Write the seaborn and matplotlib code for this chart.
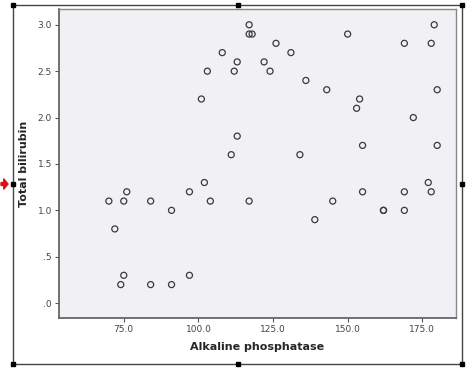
import matplotlib
matplotlib.use("Agg")
import matplotlib.pyplot as plt
import seaborn as sns
import pandas as pd
from matplotlib.lines import Line2D
from matplotlib.patches import FancyArrow

# valores
fosfatase = [70, 72, 75, 76, 74, 75, 84, 84, 91, 91, 97, 97, 101, 102, 103, 104,
             108, 111, 112, 113, 113, 117, 117, 118, 117, 122, 124, 126, 131, 134,
             136, 139, 143, 145, 150, 153, 154, 155, 155, 162, 162, 169, 169, 169,
             172, 177, 178, 178, 179, 180, 180]
bilirrubina = [1.1, 0.8, 1.1, 1.2, 0.2, 0.3, 1.1, 0.2, 1.0, 0.2, 1.2, 0.3, 2.2, 1.3, 2.5, 1.1,
               2.7, 1.6, 2.5, 2.6, 1.8, 3.0, 2.9, 2.9, 1.1, 2.6, 2.5, 2.8, 2.7, 1.6,
               2.4, 0.9, 2.3, 1.1, 2.9, 2.1, 2.2, 1.7, 1.2, 1.0, 1.0, 2.8, 1.2, 1.0,
               2.0, 1.3, 2.8, 1.2, 3.0, 2.3, 1.7]
xticks = [75, 100, 125, 150, 175]
xlabels = ["75.0", "100.0", "125.0", "150.0", "175.0"]
yticks = [0, 0.5, 1.0, 1.5, 2.0, 2.5, 3.0]
ylabels = [".0", ".5", "1.0", "1.5", "2.0", "2.5", "3.0"]

df = pd.DataFrame({"Alkaline phosphatase": fosfatase, "Total bilirubin": bilirrubina})

sns.set_style("white")
plt.rcParams["font.family"] = ["DejaVu Sans"]

fig = plt.figure(figsize=(4.74, 3.74), dpi=100)
ax = fig.add_axes([59 / 474, 1 - 318 / 374, 397 / 474, 309 / 374])
ax.set_facecolor("#f1f0f4")

sns.scatterplot(data=df, x="Alkaline phosphatase", y="Total bilirubin", ax=ax,
                marker="o", s=19, facecolor="none", edgecolor="#3a3a3a", linewidth=0.9)

ax.set_xlim(53.3, 186.3)
ax.set_ylim(-0.16, 3.17)
ax.set_xticks(xticks)
ax.set_xticklabels(xlabels)
ax.set_yticks(yticks)
ax.set_yticklabels(ylabels)
ax.tick_params(axis="both", length=3, width=0.8, color="#555555",
               labelsize=6.5, labelcolor="#444444", pad=2, direction="out")
ax.tick_params(axis="x", bottom=True)
ax.tick_params(axis="y", left=True)
for lado in ["left", "bottom"]:
    ax.spines[lado].set_color("#666666")
    ax.spines[lado].set_linewidth(1.3)
for lado in ["top", "right"]:
    ax.spines[lado].set_color("#888888")
    ax.spines[lado].set_linewidth(1.0)
ax.set_xlabel("Alkaline phosphatase", fontsize=8, fontweight="bold", labelpad=6)
ax.set_ylabel("Total bilirubin", fontsize=8, fontweight="bold", labelpad=6)

# moldura de seleção do SPSS
W, H = 474, 374
x0, x1, y0, y1 = 13, 462, 4.5, 363.5
def fx(v):
    return v / W
def fy(v):
    return 1 - v / H
for xs, ys in [([x0, x1], [y0, y0]), ([x0, x1], [y1, y1]),
               ([x0, x0], [y0, y1]), ([x1, x1], [y0, y1])]:
    fig.add_artist(Line2D([fx(v) for v in xs], [fy(v) for v in ys],
                          color="#444444", linewidth=1.0))
xm, ym = (x0 + x1) / 2, (y0 + y1) / 2
for hx, hy in [(x0, y0), (xm, y0), (x1, y0), (x0, ym), (x1, ym),
               (x0, y1), (xm, y1), (x1, y1)]:
    fig.add_artist(Line2D([fx(hx)], [fy(hy)], marker="s", markersize=3,
                          color="black", linestyle="none"))
fig.add_artist(FancyArrow(fx(1), fy(ym), fx(7), 0, width=0.008,
                          head_width=0.028, head_length=0.009,
                          length_includes_head=True, color="#e01010",
                          transform=fig.transFigure))

plt.savefig("out.png", dpi=100)
